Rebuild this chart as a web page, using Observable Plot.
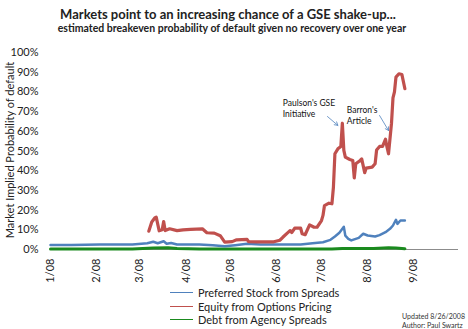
<!DOCTYPE html>
<html>
<head>
<meta charset="utf-8">
<script src="https://cdn.jsdelivr.net/npm/d3@7"></script>
<script src="https://cdn.jsdelivr.net/npm/@observablehq/plot@0.6"></script>
<style>
  html, body { margin: 0; padding: 0; background: #fff; }
  #wrap { position: relative; width: 468px; height: 329px; font-family: Lato, "Open Sans", sans-serif; color: #222; overflow: hidden; }
  .abs { position: absolute; white-space: nowrap; }
  #title { left: 0; width: 456px; top: 8px; text-align: center; font-size: 13px; line-height: 13px; font-weight: bold; }
  #subtitle { left: 0; width: 464px; top: 23px; text-align: center; font-size: 10.5px; line-height: 11px; font-weight: bold; }
  #ylabel { left: 10px; top: 150px; transform: translate(-50%, -50%) rotate(-90deg); font-size: 11px; line-height: 12px; color: #222; }
  .leg { left: 170px; font-size: 11px; color: #222; display: flex; align-items: center; }
  .leg span.sw { display: inline-block; width: 23px; height: 0; border-top: 1.5px solid; margin-right: 5px; }
  .credit { left: 402px; font-size: 7px; line-height: 8px; color: #333; }
</style>
</head>
<body>
<div id="wrap">
  <div id="chart" class="abs" style="left:0;top:0"></div>
  <div id="title" class="abs"></div>
  <div id="subtitle" class="abs"></div>
  <div id="ylabel" class="abs"></div>
  <div id="legend"></div>
  <div id="credits"></div>
</div>
<script>
// ---- Data (values in percent) ----
const titleText = "Markets point to an increasing chance of a GSE shake-up...";
const subtitleText = "estimated breakeven probability of default given no recovery over one year";
const yLabelText = "Market Implied Probability of default";

const seriesNames = ["Preferred Stock from Spreads", "Equity from Options Pricing", "Debt from Agency Spreads"];
const seriesColors = ["#4f81bd", "#c0504d", "#1a8a1e"];

const preferredDates = ["2008-01-01","2008-01-15","2008-02-03","2008-02-25","2008-03-06","2008-03-10","2008-03-13","2008-03-17","2008-03-19","2008-03-22","2008-03-26","2008-04-10","2008-04-19","2008-04-27","2008-05-04","2008-05-12","2008-05-21","2008-05-30","2008-06-17","2008-06-25","2008-07-02","2008-07-07","2008-07-10","2008-07-13","2008-07-16","2008-07-17","2008-07-19","2008-07-21","2008-07-26","2008-07-29","2008-08-01","2008-08-06","2008-08-09","2008-08-13","2008-08-16","2008-08-18","2008-08-20","2008-08-21","2008-08-23","2008-08-26"];
const preferredValues = [2.3,2.3,2.5,2.5,3.2,3.9,3.2,4.2,2.9,3.3,2.5,2.5,2.2,1.7,2.2,2.9,2.5,2.5,2.5,3.2,3.7,4.9,6.6,8.5,11.5,7.0,5.4,4.6,5.9,8.0,7.1,6.6,7.3,8.8,10.5,12.2,15.1,13.0,14.7,14.7];

const equityDates = ["2008-03-07","2008-03-09","2008-03-11","2008-03-12","2008-03-14","2008-03-16","2008-03-17","2008-03-18","2008-03-21","2008-03-26","2008-03-30","2008-04-04","2008-04-12","2008-04-15","2008-04-20","2008-04-24","2008-04-27","2008-05-02","2008-05-05","2008-05-12","2008-05-13","2008-05-19","2008-05-30","2008-06-03","2008-06-05","2008-06-08","2008-06-10","2008-06-11","2008-06-13","2008-06-17","2008-06-18","2008-06-20","2008-06-23","2008-06-26","2008-06-28","2008-07-01","2008-07-02","2008-07-03","2008-07-06","2008-07-08","2008-07-09","2008-07-10","2008-07-12","2008-07-14","2008-07-15","2008-07-16","2008-07-17","2008-07-20","2008-07-22","2008-07-23","2008-07-24","2008-07-27","2008-07-28","2008-07-30","2008-07-31","2008-08-04","2008-08-06","2008-08-07","2008-08-09","2008-08-11","2008-08-13","2008-08-14","2008-08-15","2008-08-17","2008-08-18","2008-08-19","2008-08-20","2008-08-22","2008-08-24","2008-08-26"];
const equityValues = [9.3,14.0,16.0,16.4,9.5,10.0,14.2,9.6,10.5,9.6,10.0,10.2,10.5,8.5,8.3,7.0,3.7,4.0,4.9,5.1,4.0,3.9,3.9,4.7,6.2,8.3,9.6,8.6,10.8,10.8,8.0,7.5,12.5,11.3,11.3,14.7,17.3,22.3,23.5,23.2,31.6,48.6,51.1,52.3,64.1,50.3,46.9,45.7,45.2,36.3,43.5,45.2,46.0,39.0,41.3,41.8,43.5,50.5,52.3,52.3,56.0,51.9,48.6,64.0,77.0,80.0,87.5,89.2,88.8,81.6];

const debtDates = ["2008-01-01","2008-02-25","2008-03-03","2008-03-10","2008-03-20","2008-03-26","2008-04-10","2008-07-08","2008-07-15","2008-08-05","2008-08-15","2008-08-20","2008-08-26"];
const debtValues = [0.3,0.3,0.5,0.8,0.9,0.5,0.3,0.3,0.5,0.5,0.9,0.7,0.4];

const xDomain = ["2008-01-01", "2008-10-01"];
const yTicks = [0,10,20,30,40,50,60,70,80,90,100];

const annotationLabels = ["Paulson's GSE\nInitiative", "Barron's\nArticle"];
const annotationDates = ["2008-06-05", "2008-07-18"];
const annotationValues = [77, 73.5];
const arrowStartDates = ["2008-07-05", "2008-08-09"];
const arrowStartValues = [67.5, 68];
const arrowEndDates = ["2008-07-12", "2008-08-15"];
const arrowEndValues = [63, 60.4];

const updatedText = "Updated 8/26/2008";
const authorText = "Author: Paul Swartz";

// ---- Build tables ----
const parse = d3.utcParse("%Y-%m-%d");
const mk = (dates, vals, s) => dates.map((d, i) => ({date: parse(d), value: vals[i] / 100, series: s}));
const preferred = mk(preferredDates, preferredValues, seriesNames[0]);
const equity = mk(equityDates, equityValues, seriesNames[1]);
const debt = mk(debtDates, debtValues, seriesNames[2]);
const annotations = annotationLabels.map((t, i) => ({text: t, date: parse(annotationDates[i]), value: annotationValues[i] / 100}));
const arrows = arrowStartDates.map((d, i) => ({x1: parse(d), y1: arrowStartValues[i] / 100, x2: parse(arrowEndDates[i]), y2: arrowEndValues[i] / 100}));
const xd = xDomain.map(parse);

const chart = Plot.plot({
  width: 468,
  height: 329,
  marginLeft: 50,
  marginRight: 10,
  marginTop: 52,
  marginBottom: 80,
  style: {fontFamily: "Lato, 'Open Sans', sans-serif", fontSize: "11px", color: "#222", background: "transparent"},
  x: {type: "utc", domain: xd},
  y: {domain: [0, 1]},
  marks: [
    Plot.axisY({ticks: yTicks.map(v => v / 100), tickFormat: d3.format(".0%"), tickSize: 0, tickPadding: 12, label: null, fontSize: 11}),
    Plot.axisX({ticks: d3.utcMonth.range(xd[0], xd[1]), tickFormat: d3.utcFormat("%-m/%y"), tickSize: 0, tickPadding: 9, tickRotate: -90, label: null, fontSize: 11}),
    Plot.ruleY([0], {stroke: "#8c8c8c", strokeWidth: 1}),
    Plot.line(debt, {x: "date", y: "value", stroke: seriesColors[2], strokeWidth: 3, strokeLinejoin: "round"}),
    Plot.line(preferred, {x: "date", y: "value", stroke: seriesColors[0], strokeWidth: 2.5, strokeLinejoin: "round"}),
    Plot.line(equity, {x: "date", y: "value", stroke: seriesColors[1], strokeWidth: 3.2, strokeLinejoin: "round"}),
    Plot.text(annotations, {x: "date", y: "value", text: "text", textAnchor: "start", lineAnchor: "top", fontSize: 8.5, lineHeight: 1.35, fill: "#111"}),
    Plot.arrow(arrows, {x1: "x1", y1: "y1", x2: "x2", y2: "y2", stroke: "#4f81bd", strokeWidth: 0.8, headLength: 7})
  ]
});
document.getElementById("chart").appendChild(chart);

document.getElementById("title").textContent = titleText;
document.getElementById("subtitle").textContent = subtitleText;
document.getElementById("ylabel").textContent = yLabelText;

const legendTops = [292, 306, 319];
const legend = document.getElementById("legend");
seriesNames.forEach((n, i) => {
  const row = document.createElement("div");
  row.className = "abs leg";
  row.style.top = (legendTops[i] - 7) + "px";
  row.style.height = "14px";
  row.innerHTML = `<span class="sw" style="border-color:${seriesColors[i]}"></span><span></span>`;
  row.lastChild.textContent = n;
  legend.appendChild(row);
});
const credits = document.getElementById("credits");
[updatedText, authorText].forEach((t, i) => {
  const c = document.createElement("div");
  c.className = "abs credit";
  c.style.top = (312 + i * 9) + "px";
  c.textContent = t;
  credits.appendChild(c);
});
</script>
</body>
</html>
